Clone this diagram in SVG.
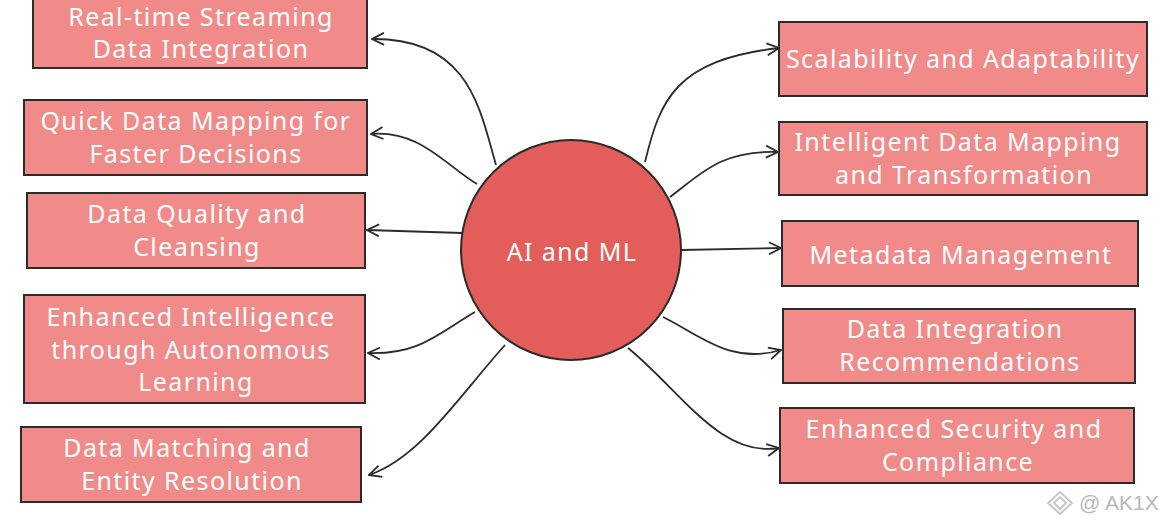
<svg xmlns="http://www.w3.org/2000/svg" width="1170" height="529" viewBox="0 0 1170 529">
<defs>
<style>
.box{fill:#f08b8a;stroke:#2b2b2b;stroke-width:2}
.hub{fill:#e35e5a;stroke:#2b2b2b;stroke-width:2}
.lbl{fill:#ffffff;font-family:"Noto Sans","Liberation Sans",sans-serif;font-size:25px;letter-spacing:1.4px;text-anchor:middle;dominant-baseline:central}
.edge{fill:none;stroke:#2b2b2b;stroke-width:1.8;marker-end:url(#arr)}
.wm{fill:#b8b8b8;font-family:"Liberation Sans",sans-serif;font-size:21px}
</style>
<marker id="arr" viewBox="0 0 14 14" refX="13" refY="7" markerWidth="14" markerHeight="14" markerUnits="userSpaceOnUse" orient="auto">
<path d="M1,1 L13,7 L1,13" fill="none" stroke="#2b2b2b" stroke-width="1.8"/>
</marker>
</defs>
<rect width="1170" height="529" fill="#ffffff"/>
<g id="connectors">
<path class="edge" d="M496,165 C480,110 470,38 372,39"/>
<path class="edge" d="M477,184 C445,165 420,130 371,134"/>
<path class="edge" d="M462,233 L367,230"/>
<path class="edge" d="M475,312 C440,332 420,355 368,353"/>
<path class="edge" d="M505,345 C460,395 420,458 369,475"/>
<path class="edge" d="M645,162 C660,100 675,60 779,48"/>
<path class="edge" d="M670,197 C700,175 720,150 778,152"/>
<path class="edge" d="M681,250 L781,248"/>
<path class="edge" d="M663,317 C700,335 730,365 781,350"/>
<path class="edge" d="M628,348 C680,390 720,458 779,448"/>
</g>
<g id="hub">
<circle class="hub" cx="571" cy="250" r="110"/>
<text class="lbl" x="572" y="251">AI and ML</text>
</g>
<g id="n-realtime">
<rect class="box" x="33" y="-10" width="334" height="78"/>
<text class="lbl" x="201" y="16">Real-time Streaming</text>
<text class="lbl" x="201" y="48">Data Integration</text>
</g>
<g id="n-quick">
<rect class="box" x="24" y="100" width="343" height="75"/>
<text class="lbl" x="196" y="120">Quick Data Mapping for</text>
<text class="lbl" x="196" y="153">Faster Decisions</text>
</g>
<g id="n-quality">
<rect class="box" x="27" y="193" width="338" height="75"/>
<text class="lbl" x="197" y="213">Data Quality and</text>
<text class="lbl" x="197" y="246">Cleansing</text>
</g>
<g id="n-enhanced-intel">
<rect class="box" x="24" y="295" width="341" height="108"/>
<text class="lbl" x="191" y="316">Enhanced Intelligence</text>
<text class="lbl" x="191" y="349">through Autonomous</text>
<text class="lbl" x="196" y="381">Learning</text>
</g>
<g id="n-matching">
<rect class="box" x="21" y="427" width="340" height="75"/>
<text class="lbl" x="187" y="447">Data Matching and</text>
<text class="lbl" x="192" y="480">Entity Resolution</text>
</g>
<g id="n-scalability">
<rect class="box" x="779" y="22" width="368" height="74"/>
<text class="lbl" x="963" y="58">Scalability and Adaptability</text>
</g>
<g id="n-intelligent-mapping">
<rect class="box" x="779" y="122" width="368" height="73"/>
<text class="lbl" x="958" y="141">Intelligent Data Mapping</text>
<text class="lbl" x="964" y="174">and Transformation</text>
</g>
<g id="n-metadata">
<rect class="box" x="782" y="221" width="356" height="65"/>
<text class="lbl" x="961" y="254">Metadata Management</text>
</g>
<g id="n-recommend">
<rect class="box" x="783" y="309" width="352" height="74"/>
<text class="lbl" x="955" y="328">Data Integration</text>
<text class="lbl" x="960" y="361">Recommendations</text>
</g>
<g id="n-security">
<rect class="box" x="780" y="408" width="354" height="75"/>
<text class="lbl" x="954" y="428">Enhanced Security and</text>
<text class="lbl" x="958" y="461">Compliance</text>
</g>
<g id="watermark">
<path d="M1060,492 L1072,503 L1060,514 L1048,503 Z M1060,497 L1066,503 L1060,509 L1054,503 Z" fill="none" stroke="#c8c8c8" stroke-width="2"/>
<text class="wm" x="1079" y="510">@ AK1X</text>
</g>
</svg>
